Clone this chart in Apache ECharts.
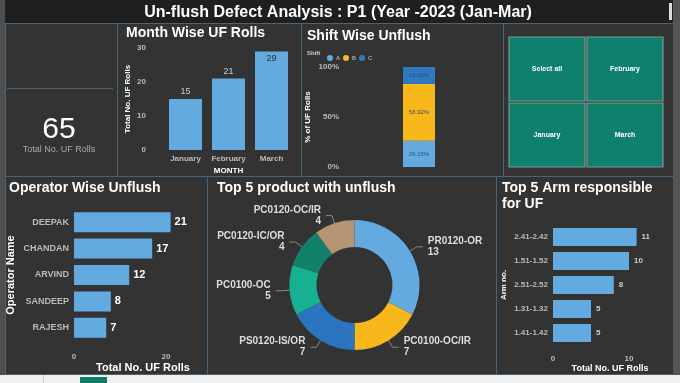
<!DOCTYPE html>
<html><head><meta charset="utf-8">
<script src="https://cdn.jsdelivr.net/npm/echarts@6/dist/echarts.min.js"></script>
<style>html,body{margin:0;padding:0;background:#333;}#c{width:680px;height:383px;}</style>
</head><body><div id="c"></div>
<script>
const dashTitle = 'Un-flush Defect Analysis : P1 (Year -2023 (Jan-Mar)';
const months = ['January', 'February', 'March'];
const monthRolls = [15, 21, 29];
const shifts = ['A', 'B', 'C'];
const shiftPct = [26.15, 56.92, 16.92];
const operators = ['DEEPAK', 'CHANDAN', 'ARVIND', 'SANDEEP', 'RAJESH'];
const operatorRolls = [21, 17, 12, 8, 7];
const products = ['PR0120-OR', 'PC0100-OC/IR', 'PS0120-IS/OR', 'PC0100-OC', 'PC0120-IC/OR', 'PC0120-OC/IR'];
const productRolls = [13, 7, 7, 5, 4, 4];
const arms = ['2.41-2.42', '1.51-1.52', '2.51-2.52', '1.31-1.32', '1.41-1.42'];
const armRolls = [11, 10, 8, 5, 5];
const slicerItems = ['Select all', 'February', 'January', 'March'];
const totalRolls = monthRolls.reduce((a, b) => a + b, 0);

const FF = '"Liberation Sans", Arial, sans-serif';
const LINE = '#46657d';
const BLUE = '#62aadf';
const shiftColors = ['#62aadf', '#f6b81b', '#2e78c4'];
const productColors = ['#62aadf', '#f6b81b', '#2b74bf', '#17b090', '#13806c', '#b49474'];

const chart = echarts.init(document.getElementById('c'), null, {renderer: 'canvas'});

function txt(text, x, y, font, fill, align, valign) {
  return {type: 'text', silent: true, style: {text, x, y, font, fill, align: align || 'left', verticalAlign: valign || 'middle'}};
}
function hline(x1, x2, y, color) {
  return {type: 'line', silent: true, shape: {x1, y1: y, x2, y2: y}, style: {stroke: color || LINE, lineWidth: 1}};
}
function vline(x, y1, y2, color) {
  return {type: 'line', silent: true, shape: {x1: x, y1, x2: x, y2}, style: {stroke: color || LINE, lineWidth: 1}};
}

const tileBoxes = [[509, 37], [587, 37], [509, 103], [587, 103]];
const tiles = [];
slicerItems.forEach((s, i) => {
  const [x, y] = tileBoxes[i];
  tiles.push({type: 'rect', silent: true, shape: {x, y, width: 76, height: 64}, style: {fill: '#0f806d', stroke: '#7c9a90', lineWidth: 1.2}});
  tiles.push(txt(s, x + 38, y + 32, 'bold 7px ' + FF, '#ffffff', 'center'));
});

const graphics = [
  {type: 'rect', silent: true, shape: {x: 0, y: 0, width: 5, height: 375}, style: {fill: '#4e4e4e'}},
  {type: 'rect', silent: true, shape: {x: 673, y: 0, width: 7, height: 375}, style: {fill: '#555555'}},
  {type: 'rect', silent: true, shape: {x: 5, y: 0, width: 668, height: 23}, style: {fill: '#1f1f1f'}},
  {type: 'rect', silent: true, shape: {x: 669, y: 3, width: 3, height: 17}, style: {fill: '#dddddd'}},
  {type: 'rect', silent: true, shape: {x: 0, y: 375, width: 680, height: 8}, style: {fill: '#f0f0f0'}},
  vline(43.5, 375, 383, '#cccccc'),
  {type: 'rect', silent: true, shape: {x: 80, y: 377, width: 27, height: 6}, style: {fill: '#107a66'}},
  txt(dashTitle, 338, 13, 'bold 16px ' + FF, '#ffffff', 'center'),
  hline(5, 673, 23.5),
  hline(5, 673, 176.5),
  hline(5, 673, 374.5),
  vline(5.5, 23, 375),
  vline(117.5, 23, 176),
  vline(301.5, 23, 176),
  vline(503.5, 23, 176),
  vline(207.5, 177, 374),
  vline(496.5, 177, 374),
  hline(7, 113, 88.5),
  txt(String(totalRolls), 59, 130, '30px ' + FF, '#ffffff', 'center'),
  txt('Total No. UF Rolls', 59, 150, '9px ' + FF, '#aaaaaa', 'center'),
  txt('Month Wise UF Rolls', 126, 33, 'bold 14px ' + FF, '#ffffff'),
  txt('Shift Wise Unflush', 307, 36, 'bold 14px ' + FF, '#ffffff'),
  txt('Shift', 307, 53, 'bold 6px ' + FF, '#cccccc'),
  txt('Operator Wise Unflush', 9, 188, 'bold 14px ' + FF, '#ffffff'),
  txt('Top 5 product with unflush', 217, 188, 'bold 14px ' + FF, '#ffffff'),
  txt('Top 5 Arm responsible', 502, 188, 'bold 14px ' + FF, '#ffffff'),
  txt('for UF', 502, 204, 'bold 14px ' + FF, '#ffffff')
].concat(tiles);

const axisLbl = {color: '#bbbbbb', fontSize: 8, fontWeight: 'bold', fontFamily: FF};
const noLines = {axisLine: {show: false}, axisTick: {show: false}, splitLine: {show: false}};

const option = {
  backgroundColor: '#333333',
  animation: false,
  textStyle: {fontFamily: FF},
  graphic: graphics,
  legend: {
    data: shifts, left: 322, top: 50, itemWidth: 6, itemHeight: 6, itemGap: 3, icon: 'circle',
    textStyle: {color: '#cccccc', fontSize: 6, padding: [0, 0, 0, -2]}
  },
  grid: [
    {left: 164, top: 48, width: 129, height: 102},
    {left: 344, top: 67, width: 150, height: 100},
    {left: 74, top: 209, width: 138, height: 132},
    {left: 553, top: 225, width: 114, height: 120}
  ],
  xAxis: [
    Object.assign({type: 'category', gridIndex: 0, data: months, name: 'MONTH', nameLocation: 'middle', nameGap: 17,
      nameTextStyle: {color: '#ffffff', fontSize: 8, fontWeight: 'bold'},
      axisLabel: Object.assign({margin: 5, interval: 0}, axisLbl)}, noLines),
    Object.assign({type: 'category', gridIndex: 1, data: ['P1'], axisLabel: {show: false}}, noLines),
    Object.assign({type: 'value', gridIndex: 2, min: 0, max: 30, interval: 20, name: 'Total No. UF Rolls', nameLocation: 'middle', nameGap: 21,
      nameTextStyle: {color: '#ffffff', fontSize: 11, fontWeight: 'bold'},
      axisLabel: Object.assign({margin: 12, showMaxLabel: false}, axisLbl)}, noLines),
    Object.assign({type: 'value', gridIndex: 3, min: 0, max: 15, interval: 10, name: 'Total No. UF Rolls', nameLocation: 'middle', nameGap: 19,
      nameTextStyle: {color: '#ffffff', fontSize: 9, fontWeight: 'bold'},
      axisLabel: Object.assign({margin: 10, showMaxLabel: false}, axisLbl)}, noLines)
  ],
  yAxis: [
    Object.assign({type: 'value', gridIndex: 0, min: 0, max: 30, interval: 10, name: 'Total No. UF Rolls', nameLocation: 'middle', nameGap: 32,
      nameTextStyle: {color: '#ffffff', fontSize: 8, fontWeight: 'bold'},
      axisLabel: Object.assign({margin: 18}, axisLbl)}, noLines),
    Object.assign({type: 'value', gridIndex: 1, min: 0, max: 100, interval: 50, name: '% of UF Rolls', nameLocation: 'middle', nameGap: 32,
      nameTextStyle: {color: '#ffffff', fontSize: 8, fontWeight: 'bold'},
      axisLabel: Object.assign({margin: 5, formatter: '{value}%'}, axisLbl)}, noLines),
    Object.assign({type: 'category', gridIndex: 2, data: operators, inverse: true, name: 'Operator Name', nameLocation: 'middle', nameGap: 58,
      nameTextStyle: {color: '#ffffff', fontSize: 11, fontWeight: 'bold'},
      axisLabel: Object.assign({}, axisLbl, {margin: 5, fontSize: 9})}, noLines),
    Object.assign({type: 'category', gridIndex: 3, data: arms, inverse: true, name: 'Arm no.', nameLocation: 'middle', nameGap: 45,
      nameTextStyle: {color: '#ffffff', fontSize: 8, fontWeight: 'bold'},
      axisLabel: Object.assign({margin: 5}, axisLbl)}, noLines)
  ],
  series: [
    {
      type: 'bar', name: 'Month', xAxisIndex: 0, yAxisIndex: 0, barWidth: 33,
      itemStyle: {color: BLUE},
      label: {show: true, position: 'top', color: '#cccccc', fontSize: 9, distance: 3},
      data: monthRolls.map(v => v >= 28 ? {value: v, label: {position: 'insideTop', color: '#333333'}} : v)
    }
  ].concat(shifts.map((s, i) => ({
    type: 'bar', name: s, xAxisIndex: 1, yAxisIndex: 1, stack: 'shift', barWidth: 32,
    itemStyle: {color: shiftColors[i]},
    label: {show: true, position: 'inside', color: '#3d4d66', fontSize: 6, formatter: p => p.value.toFixed(2) + '%'},
    data: [shiftPct[i]]
  }))).concat([
    {
      type: 'bar', name: 'Operator', xAxisIndex: 2, yAxisIndex: 2, barWidth: 20,
      itemStyle: {color: BLUE},
      label: {show: true, position: 'right', color: '#ffffff', fontSize: 11, fontWeight: 'bold', distance: 4},
      data: operatorRolls
    },
    {
      type: 'bar', name: 'Arm', xAxisIndex: 3, yAxisIndex: 3, barWidth: 18,
      itemStyle: {color: BLUE},
      label: {show: true, position: 'right', color: '#cccccc', fontSize: 8, fontWeight: 'bold', distance: 5},
      data: armRolls
    },
    {
      type: 'pie', name: 'Product', center: [354.5, 285], radius: [38, 65], startAngle: 90, clockwise: true,
      avoidLabelOverlap: true,
      label: {show: true, formatter: '{b}\n{c}', color: '#dddddd', fontSize: 10, fontWeight: 'bold', lineHeight: 11},
      labelLine: {show: true, length: 8, length2: 6, lineStyle: {color: '#888888'}},
      data: products.map((p, i) => ({name: p, value: productRolls[i], itemStyle: {color: productColors[i]}}))
    }
  ])
};
chart.setOption(option);
</script>
</body></html>
